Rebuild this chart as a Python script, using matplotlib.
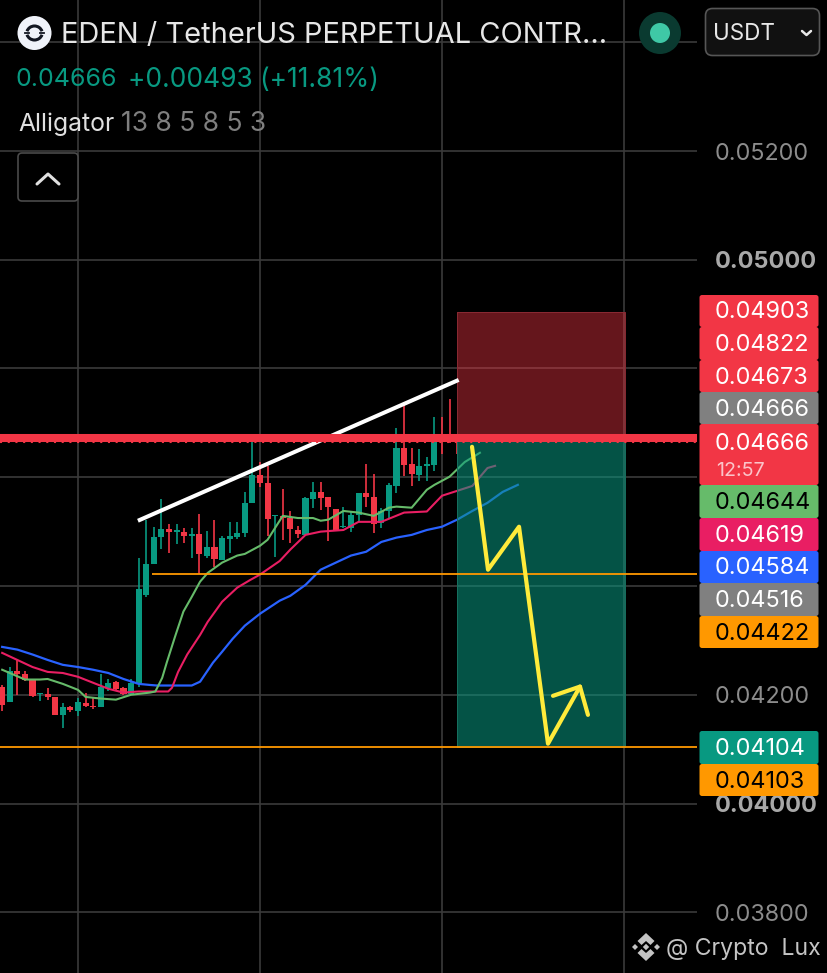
import matplotlib
matplotlib.use("Agg")
import matplotlib.pyplot as plt
from matplotlib.patches import FancyBboxPatch, Circle, Polygon, Arc

FONT = "Inter"
plt.rcParams["font.family"] = [FONT, "DejaVu Sans"]

GREEN = "#089981"
RED = "#F23645"

first_candle = -10
opens = [.04215,.04187,.04244,.04239,.04228,.04202,.04202,.04196,.04163,.04178,.04171,.04185,.04180,.04178,.04213,.04224,.04213,.04202,
         .04222,.04383,.04440,.04490,.04505,.04499,.04499,.04492,.04496,.04455,.04472,.04448,.04486,.04490,.04498,.04553,.04604,.04589,
         .04529,.04529,.04525,.04503,.04494,.04560,.04573,.04564,.04542,.04509,.04507,.04531,.04571,.04564,.04516,.04538,.04584,.04654,
         .04624,.04604,.04621,.04623,.04672,.04674,.04670]
closes = [.04182,.04244,.04239,.04228,.04198,.04204,.04196,.04163,.04178,.04172,.04187,.04180,.04178,.04215,.04222,.04211,.04202,.04222,
          .04394,.04440,.04490,.04505,.04499,.04503,.04492,.04496,.04459,.04472,.04450,.04488,.04492,.04498,.04553,.04604,.04589,.04523,
          .04531,.04525,.04505,.04496,.04562,.04573,.04562,.04545,.04501,.04510,.04531,.04571,.04564,.04514,.04538,.04586,.04654,.04623,
          .04606,.04621,.04624,.04670,.04669,.04670,.04665]
highs = [.04218,.04251,.04266,.04244,.04229,.04204,.04213,.04196,.04185,.04180,.04194,.04204,.04194,.04239,.04229,.04226,.04215,.04229,
         .04452,.04521,.04509,.04560,.04514,.04514,.04507,.04507,.04532,.04501,.04521,.04492,.04518,.04518,.04573,.04669,.04628,.04621,
         .04531,.04578,.04538,.04510,.04564,.04591,.04591,.04564,.04542,.04545,.04536,.04571,.04624,.04606,.04543,.04589,.04691,.04733,
         .04654,.04652,.04637,.04711,.04711,.04744,.04670]
lows = [.04171,.04187,.04200,.04226,.04196,.04189,.04191,.04163,.04139,.04169,.04161,.04178,.04174,.04178,.04207,.04209,.04200,.04200,
        .04215,.04380,.04440,.04468,.04461,.04477,.04479,.04452,.04422,.04452,.04435,.04448,.04461,.04486,.04490,.04553,.04582,.04492,
        .04453,.04485,.04479,.04488,.04494,.04543,.04540,.04483,.04501,.04507,.04499,.04520,.04545,.04498,.04507,.04525,.04571,.04602,
        .04584,.04593,.04593,.04612,.04643,.04663,.04643]

blue_x = [-10,-8,-6,-4,-2,0,2,4,6,8,9.5,10.4,15,16.1,17.8,19,20.4,22,24,26.6,28,30,32,34,36,38,40,42,44,46,48,50,52,54,56,58]
blue_y = [.04288,.04283,.04274,.04264,.04255,.04251,.04246,.04240,.04229,.04220,.04218,.04217,.04217,.04224,.04259,.04279,.04303,.04327,
          .04349,.04373,.04382,.04402,.04430,.04443,.04456,.04463,.04481,.04489,.04494,.04503,.04509,.04522,.04538,.04553,.04573,.04586]
red_x = [-10,-8,-6,-4,-2,0,2,4,6,8,10,11.9,12.4,13.2,14.4,16.1,17.1,19,21,22.7,24,26.6,28,30,32,35,37,40,43,46,48,50,52,54,55]
red_y = [.04277,.04264,.04251,.04242,.04240,.04233,.04222,.04211,.04204,.04206,.04206,.04206,.04213,.04242,.04274,.04310,.04334,.04371,
         .04397,.04411,.04421,.04446,.04467,.04494,.04500,.04503,.04518,.04518,.04535,.04537,.04566,.04575,.04584,.04617,.04621]
green_x = [-10,-9,-7,-5,-4,-2,0,1,3,5,7,9.5,10.2,11.1,11.7,12.8,13.9,15,16.1,17.1,19,21,22,24,25,26,27,29,31,32,33,35,37,39,41,42,44,46,47,49,51,53]
green_y = [.04246,.04240,.04228,.04228,.04229,.04220,.04209,.04196,.04193,.04191,.04200,.04204,.04206,.04231,.04259,.04307,.04353,.04380,
           .04408,.04424,.04443,.04456,.04459,.04474,.04485,.04507,.04529,.04525,.04525,.04520,.04522,.04538,.04535,.04529,.04544,.04546,.04544,
           .04577,.04586,.04601,.04628,.04645]

trend_x = [7.9, 50.2]
trend_y = [.04520, .04779]
yellow_x = [51.96, 54.07, 58.16, 61.98, 66.2]
yellow_y = [.04656, .04430, .04509, .04110, .04215]
head_x = [62.64, 66.2, 67.25]
head_y = [.04198, .04215, .04163]

entry = .04673
last = .04665
stop = .04903
target = .04104
lvl_hi = .04422
lvl_lo = .04103
pos_left, pos_right = 50.0, 72.1

tick_prices = [.05200, .05000, .04800, .04600, .04400, .04200, .04000, .03800, .05400]
tick_text = {.05200: "0.05200", .05000: "0.05000", .04200: "0.04200", .04000: "0.04000", .03800: "0.03800"}
bold_ticks = [.05000, .04000]
grid_x = [0, 24, 48, 72]

# label, top px, bottom px, face, text colour
badges = [
    ("0.04903", 295, 327, RED, "white"),
    ("0.04822", 327, 360, RED, "white"),
    ("0.04673", 360, 392, RED, "white"),
    ("0.04666", 392, 424, "#808080", "white"),
    ("0.04666", 424, 485, RED, "white"),
    ("0.04644", 485, 518, "#66BB6A", "black"),
    ("0.04619", 518, 551, "#E91E63", "white"),
    ("0.04584", 551, 583, "#2962FF", "white"),
    ("0.04516", 583, 616, "#808080", "white"),
    ("0.04422", 616, 648, "#FF9800", "black"),
    ("0.04104", 731, 764, "#089981", "white"),
    ("0.04103", 764, 796, "#FF9800", "black"),
]

W, H = 828, 973
fig = plt.figure(figsize=(W / 100, H / 100), dpi=100, facecolor="black")
PANE = 697
ax = fig.add_axes([0, 0, PANE / W, 1], facecolor="black")
ax.set_xlim(-78 / 7.583, (PANE - 78) / 7.583)
ax.set_ylim(.052 - (973 - 151) / 54375, .052 + 151 / 54375)
for s in ax.spines.values():
    s.set_visible(False)

ax.set_xticks(grid_x)
ax.set_xticklabels([])
ax.set_yticks(tick_prices)
ax.set_yticklabels([tick_text.get(t, "") for t in tick_prices])
ax.yaxis.tick_right()
ax.tick_params(axis="both", length=0, pad=13)
ax.tick_params(axis="y", labelsize=16.8, labelcolor="#8c8c8c")
for lab, t in zip(ax.get_yticklabels(), tick_prices):
    if t in bold_ticks:
        lab.set_fontweight("bold")
        lab.set_color("#a8a8a8")
ax.grid(True, color="#3a3a3a", lw=1.2, zorder=0)
ax.set_axisbelow(True)

# candles
xs = [first_candle + k for k in range(len(opens))]
cols = [GREEN if c >= o else RED for o, c in zip(opens, closes)]
ax.vlines(xs, lows, highs, colors=cols, lw=1.2, zorder=2)
ax.bar(xs, [abs(c - o) for o, c in zip(opens, closes)], bottom=[min(o, c) for o, c in zip(opens, closes)],
       width=0.8, color=cols, linewidth=0, zorder=2.1)

# alligator
ax.plot(blue_x, blue_y, color="#2962FF", lw=1.6, zorder=3, solid_joinstyle="round")
ax.plot(red_x, red_y, color="#E91E63", lw=1.5, zorder=3, solid_joinstyle="round")
ax.plot(green_x, green_y, color="#66BB6A", lw=1.5, zorder=3, solid_joinstyle="round")

# position boxes
ax.fill_between([pos_left, pos_right], entry, stop, facecolor=RED, alpha=0.42, lw=0, zorder=4)
ax.fill_between([pos_left, pos_right], target, entry, facecolor=GREEN, alpha=0.55, lw=0, zorder=4)
ax.plot([pos_left, pos_left, pos_right, pos_right], [entry, stop, stop, entry], color="#8a2a33", lw=0.7, zorder=4.1)
ax.plot([pos_left, pos_left, pos_right, pos_right, pos_left], [entry, target, target, entry, entry], color="#17705f", lw=0.7, zorder=4.1)

# levels
ax.hlines(lvl_hi, 9.76, ax.get_xlim()[1], color="#FF9800", lw=1.3, zorder=4.5)
ax.hlines(lvl_lo, ax.get_xlim()[0], ax.get_xlim()[1], color="#FF9800", lw=1.3, zorder=4.5)

# drawings
ax.plot(trend_x, trend_y, color="white", lw=2.9, zorder=5, solid_capstyle="butt")
ax.plot(ax.get_xlim(), [entry, entry], color=RED, lw=5.8, zorder=5.5, solid_capstyle="butt")
ax.plot(ax.get_xlim(), [last, last], color=RED, lw=1.5, zorder=5.4, linestyle=(0, (1.0, 2.7)))
ax.plot(yellow_x, yellow_y, color="#FFEB3B", lw=3.0, zorder=6, solid_joinstyle="round", solid_capstyle="round")
ax.plot(head_x, head_y, color="#FFEB3B", lw=3.0, zorder=6, solid_joinstyle="round", solid_capstyle="round")

# interface layer in pixels
ui = fig.add_axes([0, 0, 1, 1], facecolor="none")
ui.set_xlim(0, W)
ui.set_ylim(H, 0)
ui.axis("off")

for label, top, bot, face, tc in badges:
    ui.add_patch(FancyBboxPatch((699.5, top), 119, bot - top, boxstyle="round,pad=0,rounding_size=2.5",
                                fc=face, ec="none", zorder=2))
    yc = (top + bot) / 2 if bot - top < 40 else top + 18
    ui.text(715, yc + 1.5, label, color=tc, fontsize=16.9, va="center", ha="left", zorder=3)
ui.text(716, 471, "12:57", color="#fbc4c9", fontsize=14.2, va="center", ha="left", zorder=3)

# header
ui.add_patch(Circle((34.5, 33), 17, fc="#F0F3FA", ec="none"))
ui.add_patch(Arc((34.5, 34), 16, 16, theta1=200, theta2=340, color="#131722", lw=2.2))
ui.add_patch(Arc((34.5, 32), 16, 16, theta1=20, theta2=160, color="#131722", lw=2.2))
ui.plot([25, 29], [33, 33], color="#131722", lw=1.3)
ui.plot([40, 44], [33, 33], color="#131722", lw=1.3)
ui.text(61, 35, "EDEN / TetherUS PERPETUAL CONTR...", color="#e6e6e6", fontsize=20.95, va="center", ha="left")
ui.text(16, 80, "0.04666", color=GREEN, fontsize=18, va="center", ha="left")
ui.text(128, 80, "+0.00493 (+11.81%)", color=GREEN, fontsize=19, va="center", ha="left")
ui.text(18, 124, "Alligator", color="#e0e0e0", fontsize=17.8, va="center", ha="left")
ui.text(121, 124, "13 8 5 8 5 3", color="#7f7f7f", fontsize=19, va="center", ha="left")

ui.add_patch(FancyBboxPatch((18, 153), 60, 48, boxstyle="round,pad=0,rounding_size=4", fc="black", ec="#4a4a4a", lw=1.2))
ui.plot([37, 48, 59], [184, 174, 184], color="#e0e0e0", lw=2.2, solid_capstyle="round")

ui.add_patch(Circle((660, 33), 21, fc="#0a3a30", ec="none"))
ui.add_patch(Circle((660, 33), 10, fc="#3fc8a6", ec="none"))
ui.add_patch(FancyBboxPatch((705.5, 8.5), 114, 47, boxstyle="round,pad=0,rounding_size=7", fc="#111111", ec="#565656", lw=1.2))
ui.text(713, 34.5, "USDT", color="#e8e8e8", fontsize=16.2, va="center", ha="left")
ui.plot([802, 806.5, 811], [31, 35, 31], color="#e8e8e8", lw=1.8, solid_capstyle="round")

# watermark
wm = "#c4c4c4"
ui.add_patch(Polygon([(646, 933), (654.5, 941), (650.5, 945), (646, 941), (641.5, 945), (637.5, 941)], fc=wm, ec="none"))
ui.add_patch(Polygon([(646, 961), (654.5, 953), (650.5, 949), (646, 953), (641.5, 949), (637.5, 953)], fc=wm, ec="none"))
for cx, cy, r in [(635, 947, 3), (657, 947, 3), (646, 947, 3.2)]:
    ui.add_patch(Polygon([(cx - r, cy), (cx, cy - r), (cx + r, cy), (cx, cy + r)], fc=wm, ec="none"))
ui.text(666, 949, "@ Crypto  Lux", color=wm, fontsize=16.6, va="center", ha="left")

fig.savefig("out.png", dpi=100, facecolor="black")
